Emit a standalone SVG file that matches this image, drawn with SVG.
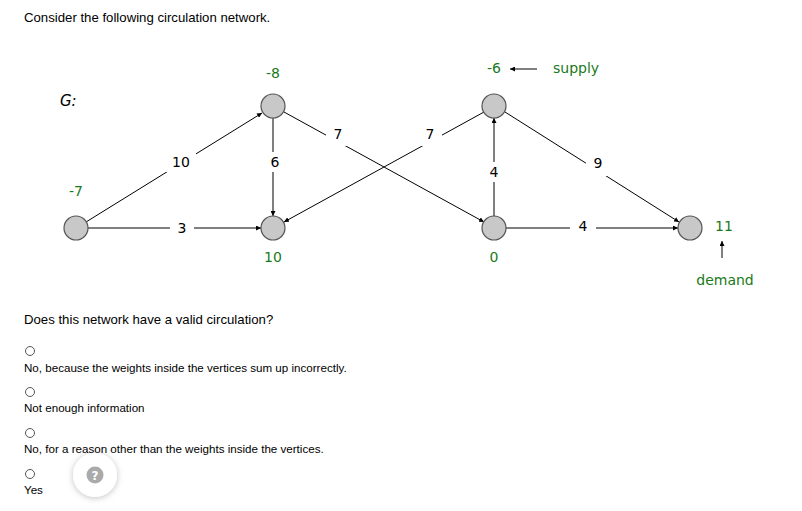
<svg xmlns="http://www.w3.org/2000/svg" width="802" height="511" viewBox="0 0 802 511">
<defs>
<marker id="ah" markerWidth="5" markerHeight="5" refX="5" refY="2.5" orient="auto" markerUnits="userSpaceOnUse"><path d="M0,0 L5,2.5 L0,5 z" fill="#000"/></marker>
<filter id="sh" x="-50%" y="-50%" width="200%" height="200%"><feDropShadow dx="0" dy="1" stdDeviation="3" flood-color="#000" flood-opacity="0.25"/></filter>
</defs>
<style>
.q{font-family:"Liberation Sans",Arial,sans-serif;font-size:13.2px;fill:#000}
.o{font-family:"Liberation Sans",Arial,sans-serif;font-size:11.6px;fill:#000}
.g{font-family:"DejaVu Sans",sans-serif;font-size:14px;fill:#1a7a1a}
.w{font-family:"DejaVu Sans",sans-serif;font-size:14px;fill:#000}
.e{stroke:#000;stroke-width:1;fill:none;marker-end:url(#ah)}
.n{fill:#c8c8c8;stroke:#555;stroke-width:1.2}
.lb{fill:#fff}
.r{fill:#fff;stroke:#555;stroke-width:1}
</style>
<rect width="802" height="511" fill="#fff"/>
<text class="q" x="24" y="22">Consider the following circulation network.</text>
<text x="60" y="106" style="font-family:'DejaVu Sans',sans-serif;font-size:15px;font-style:italic">G:</text>
<g id="edges">
<line class="e" x1="86" y1="222" x2="262" y2="113"/>
<line class="e" x1="88" y1="228" x2="261" y2="228"/>
<line class="e" x1="273" y1="118" x2="273" y2="216"/>
<line class="e" x1="284" y1="112" x2="484" y2="222"/>
<line class="e" x1="484" y1="112" x2="284" y2="222"/>
<line class="e" x1="494" y1="216" x2="494" y2="118"/>
<line class="e" x1="505" y1="112" x2="679" y2="222"/>
<line class="e" x1="506" y1="228" x2="678" y2="228"/>
<rect class="lb" x="166" y="150" width="30" height="22"/>
<rect class="lb" x="170" y="218" width="24" height="20"/>
<rect class="lb" x="265" y="152" width="20" height="20"/>
<rect class="lb" x="326" y="124" width="24" height="22"/>
<rect class="lb" x="418" y="124" width="24" height="22"/>
<rect class="lb" x="484" y="162" width="20" height="20"/>
<rect class="lb" x="586" y="152" width="24" height="24"/>
<rect class="lb" x="570" y="216" width="26" height="20"/>
<text class="w" x="181" y="167" text-anchor="middle">10</text>
<text class="w" x="182" y="233" text-anchor="middle">3</text>
<text class="w" x="275" y="167" text-anchor="middle">6</text>
<text class="w" x="338" y="139" text-anchor="middle">7</text>
<text class="w" x="430" y="139" text-anchor="middle">7</text>
<text class="w" x="494" y="177" text-anchor="middle">4</text>
<text class="w" x="598" y="168" text-anchor="middle">9</text>
<text class="w" x="583" y="231" text-anchor="middle">4</text>
</g>
<g id="nA"><circle class="n" cx="76" cy="228" r="12"/><text class="g" x="76" y="196" text-anchor="middle">-7</text></g>
<g id="nB"><circle class="n" cx="273" cy="106" r="12"/><text class="g" x="273" y="78" text-anchor="middle">-8</text></g>
<g id="nC"><circle class="n" cx="273" cy="228" r="12"/><text class="g" x="273" y="262" text-anchor="middle">10</text></g>
<g id="nD"><circle class="n" cx="494" cy="106" r="12"/><text class="g" x="494" y="73" text-anchor="middle">-6</text></g>
<g id="nE"><circle class="n" cx="494" cy="228" r="12"/><text class="g" x="494" y="262" text-anchor="middle">0</text></g>
<g id="nF"><circle class="n" cx="690" cy="228" r="12"/><text class="g" x="724" y="231" text-anchor="middle">11</text></g>
<g id="annot">
<line class="e" x1="537" y1="69" x2="510" y2="69"/>
<text class="g" x="553" y="73">supply</text>
<line class="e" x1="722" y1="258" x2="722" y2="241"/>
<text class="g" x="725" y="285" text-anchor="middle">demand</text>
</g>
<text class="q" x="24" y="324">Does this network have a valid circulation?</text>
<circle class="r" cx="30" cy="351" r="4.5"/>
<text class="o" x="24" y="372">No, because the weights inside the vertices sum up incorrectly.</text>
<circle class="r" cx="30" cy="392" r="4.5"/>
<text class="o" x="24" y="412">Not enough information</text>
<circle class="r" cx="30" cy="433" r="4.5"/>
<text class="o" x="24" y="453">No, for a reason other than the weights inside the vertices.</text>
<circle class="r" cx="30" cy="474" r="4.5"/>
<text class="o" x="24" y="494">Yes</text>
<g id="help"><circle cx="95" cy="475" r="22" fill="#fff" filter="url(#sh)"/><circle cx="95" cy="475" r="8.5" fill="#aaa"/><text x="95" y="479.5" text-anchor="middle" style="font-family:'DejaVu Sans',sans-serif;font-size:12px;font-weight:bold;fill:#fff">?</text></g>
</svg>
